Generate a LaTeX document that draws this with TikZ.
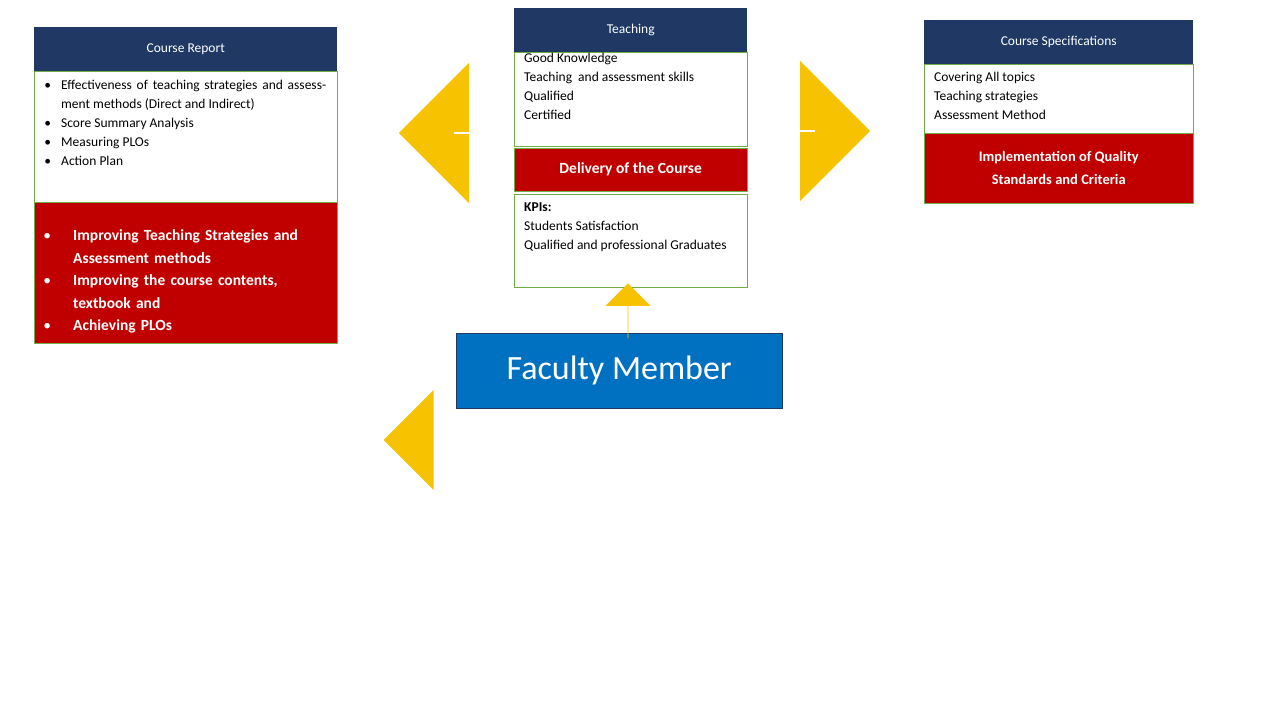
\documentclass[tikz,border=0pt]{standalone}
\usepackage{fontspec}
\setmainfont{Carlito}
\usepackage{enumitem}
\usetikzlibrary{shapes.arrows}
\definecolor{hdrblue}{HTML}{1F3864}
\definecolor{boxred}{HTML}{C00000}
\definecolor{facblue}{HTML}{0070C0}
\definecolor{linegreen}{HTML}{70AD47}
\definecolor{arrowgold}{HTML}{F7C300}
\tikzset{
  hdr/.style={fill=hdrblue, text=white, anchor=north west, inner sep=0pt,
    font=\fontsize{13.5}{16}\selectfont},
  body/.style={draw=linegreen, fill=white, anchor=north west, inner sep=0pt,
    font=\fontsize{13.5}{19}\selectfont},
  redbox/.style={draw=linegreen, fill=boxred, text=white, anchor=north west, inner sep=0pt,
    font=\fontsize{14.5}{22.5}\selectfont\bfseries},
  bigarrow/.style={single arrow, fill=arrowgold, inner sep=0pt,
    single arrow head extend=13pt, single arrow tip angle=90},
}
\setlist[itemize]{nosep, leftmargin=18pt, labelsep=10pt}
\begin{document}
\begin{tikzpicture}[x=1pt, y=-1pt]
  \useasboundingbox (0,0) rectangle (1280,720);
  % course report
  \node[hdr, minimum width=303pt, minimum height=44pt] (reportHdr) at (34,27) {Course Report};
  \node[body, minimum width=303pt, minimum height=131pt] (reportBox) at (34,71) {};
  \node[anchor=north west, text width=283pt, inner sep=0pt, align=justify,
    font=\fontsize{13.5}{19}\selectfont] (reportTxt) at (43,70) {%
    \begin{itemize}
      \item Effectiveness of teaching strategies and assessment methods (Direct and Indirect)
      \item Score Summary Analysis
      \item Measuring PLOs
      \item Action Plan
    \end{itemize}};
  \node[redbox, minimum width=303pt, minimum height=141pt] (reportRed) at (34,202) {};
  \node[anchor=north west, text width=275pt, inner sep=0pt, text=white,
    font=\fontsize{15.5}{22.5}\selectfont\bfseries] (reportRedTxt) at (40,218) {%
    \begin{itemize}[leftmargin=33pt, labelsep=22pt]
      \item Improving Teaching Strategies and Assessment methods
      \item Improving the course contents, textbook and
      \item Achieving PLOs
    \end{itemize}};
  % teaching
  \node[hdr, minimum width=233pt, minimum height=44pt] (teachHdr) at (514,8) {Teaching};
  \node[body, minimum width=233pt, minimum height=94pt] (teachBox) at (514,52) {};
  \node[anchor=north west, inner sep=0pt, align=left,
    font=\fontsize{13.5}{19}\selectfont] (teachTxt) at (524,53) {Good Knowledge\\
    Teaching~ and assessment skills\\ Qualified\\ Certified};
  \node[redbox, minimum width=233pt, minimum height=43pt,
    font=\fontsize{15.5}{19}\selectfont\bfseries] (delivery) at (514,148) {Delivery of the Course};
  \node[body, minimum width=233pt, minimum height=93pt] (kpiBox) at (514,194) {};
  \node[anchor=north west, inner sep=0pt, text width=213pt, align=justify,
    font=\fontsize{13.5}{19}\selectfont] (kpiTxt) at (524,203) {\textbf{KPIs:}\\
    Students Satisfaction\\ Qualified and professional Graduates};
  % course specifications
  \node[hdr, minimum width=269pt, minimum height=44pt] (specHdr) at (924,20) {Course Specifications};
  \node[body, minimum width=269pt, minimum height=69pt] (specBox) at (924,64) {};
  \node[anchor=north west, inner sep=0pt, align=left,
    font=\fontsize{13.5}{19}\selectfont] (specTxt) at (934,72) {Covering All topics\\
    Teaching strategies\\ Assessment Method};
  \node[redbox, minimum width=269pt, minimum height=70pt, align=center] (quality) at (924,133)
    {Implementation of Quality\\ Standards and Criteria};
  % faculty member
  \node[draw=hdrblue, fill=facblue, text=white, minimum width=326pt, minimum height=75pt,
    anchor=north west, inner sep=0pt, font=\fontsize{34}{40}\selectfont] (faculty) at (456,333) {Faculty Member};
  % arrows
  \node[bigarrow, minimum width=140pt, minimum height=55pt, shape border rotate=180] (arrLeft) at (427,133) {};
  \node[bigarrow, minimum width=140pt, minimum height=55pt] (arrRight) at (842,131) {};
  \node[bigarrow, minimum width=45pt, minimum height=55pt, single arrow head extend=13pt,
    shape border rotate=90] (arrUp) at (628,311) {};
  \node[bigarrow, minimum width=100pt, minimum height=50pt, shape border rotate=206,
    single arrow head extend=11pt] (arrDiag) at (409,440) {};
\end{tikzpicture}
\end{document}
